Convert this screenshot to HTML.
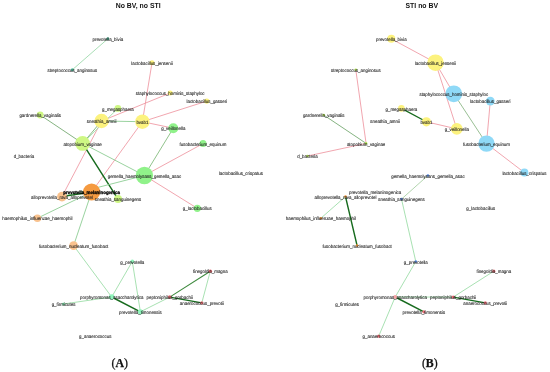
<!DOCTYPE html>
<html><head><meta charset="utf-8"><title>Networks</title>
<style>
html,body{margin:0;padding:0;background:#fff;}
body{width:550px;height:372px;overflow:hidden;}
svg{display:block;}
.l{font-family:"Liberation Sans",Arial,Helvetica,sans-serif;font-size:4.8px;fill:#222;stroke:#222;stroke-width:0.1px;text-anchor:middle;text-rendering:geometricPrecision;}
.t{font-family:"Liberation Sans",Arial,Helvetica,sans-serif;font-size:6.9px;font-weight:bold;fill:#111;text-anchor:middle;}
.c{font-family:"Liberation Serif","Times New Roman",serif;font-size:11.8px;fill:#111;stroke:#111;stroke-width:0.25px;text-anchor:middle;}
.c tspan{font-weight:bold;}
</style></head><body>
<svg width="550" height="372" viewBox="0 0 550 372">
<defs><filter id="soft" x="0" y="0" width="550" height="372" filterUnits="userSpaceOnUse"><feGaussianBlur stdDeviation="0.38"/></filter></defs>
<rect width="550" height="372" fill="#fff"/>
<g>
<line x1="107.8" y1="38.8" x2="72.3" y2="69.8" stroke="#98D8A8" stroke-width="0.85" stroke-linecap="round"/>
<line x1="152.0" y1="62.7" x2="142.4" y2="121.7" stroke="#EE96A0" stroke-width="0.85" stroke-linecap="round"/>
<line x1="170.2" y1="93.0" x2="101.6" y2="121.0" stroke="#EE96A0" stroke-width="0.85" stroke-linecap="round"/>
<line x1="206.8" y1="101.1" x2="142.4" y2="121.7" stroke="#EE96A0" stroke-width="0.85" stroke-linecap="round"/>
<line x1="142.4" y1="121.7" x2="173.3" y2="128.2" stroke="#EE96A0" stroke-width="0.85" stroke-linecap="round"/>
<line x1="142.4" y1="121.7" x2="101.6" y2="121.0" stroke="#86CA8E" stroke-width="0.85" stroke-linecap="round"/>
<line x1="142.4" y1="121.7" x2="91.6" y2="192.0" stroke="#EE96A0" stroke-width="0.85" stroke-linecap="round"/>
<line x1="101.6" y1="121.0" x2="62.0" y2="196.6" stroke="#EE96A0" stroke-width="0.85" stroke-linecap="round"/>
<line x1="40.2" y1="115.0" x2="82.6" y2="143.4" stroke="#6FA56A" stroke-width="0.85" stroke-linecap="round"/>
<line x1="82.6" y1="143.4" x2="101.6" y2="121.0" stroke="#74AC6E" stroke-width="0.85" stroke-linecap="round"/>
<line x1="82.6" y1="143.4" x2="117.9" y2="108.4" stroke="#98DCA4" stroke-width="0.85" stroke-linecap="round"/>
<line x1="82.6" y1="143.4" x2="118.0" y2="199.1" stroke="#176B1E" stroke-width="1.45" stroke-linecap="round"/>
<line x1="82.6" y1="143.4" x2="144.4" y2="175.5" stroke="#86CA8E" stroke-width="0.85" stroke-linecap="round"/>
<line x1="144.4" y1="175.5" x2="173.3" y2="128.2" stroke="#7DB877" stroke-width="0.85" stroke-linecap="round"/>
<line x1="144.4" y1="175.5" x2="203.0" y2="143.6" stroke="#EE96A0" stroke-width="0.85" stroke-linecap="round"/>
<line x1="144.4" y1="175.5" x2="197.3" y2="208.3" stroke="#EE96A0" stroke-width="0.85" stroke-linecap="round"/>
<line x1="144.4" y1="175.5" x2="62.0" y2="196.6" stroke="#86CA8E" stroke-width="0.85" stroke-linecap="round"/>
<line x1="91.6" y1="192.0" x2="62.0" y2="196.6" stroke="#176B1E" stroke-width="1.3" stroke-linecap="round"/>
<line x1="91.6" y1="192.0" x2="37.4" y2="218.2" stroke="#86CA8E" stroke-width="0.85" stroke-linecap="round"/>
<line x1="91.6" y1="192.0" x2="73.6" y2="245.6" stroke="#86CA8E" stroke-width="0.85" stroke-linecap="round"/>
<line x1="73.6" y1="245.6" x2="111.7" y2="297.0" stroke="#98DCA4" stroke-width="0.85" stroke-linecap="round"/>
<line x1="111.7" y1="297.0" x2="132.3" y2="261.5" stroke="#98DCA4" stroke-width="0.85" stroke-linecap="round"/>
<line x1="132.3" y1="261.5" x2="140.4" y2="311.8" stroke="#98DCA4" stroke-width="0.85" stroke-linecap="round"/>
<line x1="111.7" y1="297.0" x2="140.4" y2="311.8" stroke="#176B1E" stroke-width="1.45" stroke-linecap="round"/>
<line x1="111.7" y1="297.0" x2="63.5" y2="304.0" stroke="#98DCA4" stroke-width="0.85" stroke-linecap="round"/>
<line x1="140.4" y1="311.8" x2="169.7" y2="297.1" stroke="#98DCA4" stroke-width="0.85" stroke-linecap="round"/>
<line x1="169.7" y1="297.1" x2="210.3" y2="271.2" stroke="#3E8A3E" stroke-width="1.1" stroke-linecap="round"/>
<line x1="169.7" y1="297.1" x2="201.8" y2="302.9" stroke="#176B1E" stroke-width="1.45" stroke-linecap="round"/>
<line x1="210.3" y1="271.2" x2="201.8" y2="302.9" stroke="#98DCA4" stroke-width="0.85" stroke-linecap="round"/>
<circle cx="107.8" cy="38.8" r="1.5" fill="#4FBF9F"/>
<circle cx="72.3" cy="69.8" r="1.5" fill="#4FBF9F"/>
<circle cx="152.0" cy="62.7" r="2.5" fill="#FCF27E"/>
<circle cx="170.2" cy="93.0" r="2.5" fill="#FCF27E"/>
<circle cx="206.8" cy="101.1" r="2.7" fill="#FCF27E"/>
<circle cx="117.9" cy="108.4" r="3.4" fill="#CEF784"/>
<circle cx="40.2" cy="115.0" r="3.4" fill="#CEF784"/>
<circle cx="101.6" cy="121.0" r="7.2" fill="#FCF27E"/>
<circle cx="142.4" cy="121.7" r="7.2" fill="#FCF27E"/>
<circle cx="173.3" cy="128.2" r="5.0" fill="#90F28A"/>
<circle cx="82.6" cy="143.4" r="7.4" fill="#CEF784"/>
<circle cx="203.0" cy="143.6" r="3.5" fill="#90F28A"/>
<circle cx="144.4" cy="175.5" r="8.7" fill="#90F28A"/>
<circle cx="91.6" cy="192.0" r="8.6" fill="#F59A40"/>
<circle cx="62.0" cy="196.6" r="4.9" fill="#F9C28E"/>
<circle cx="118.0" cy="199.1" r="4.0" fill="#CEF784"/>
<circle cx="197.3" cy="208.3" r="3.6" fill="#90F28A"/>
<circle cx="37.4" cy="218.2" r="3.8" fill="#F9C28E"/>
<circle cx="73.6" cy="245.6" r="4.4" fill="#F9C28E"/>
<circle cx="132.3" cy="261.5" r="1.9" fill="#90F5BC"/>
<circle cx="210.3" cy="271.2" r="1.8" fill="#EE7078"/>
<circle cx="111.7" cy="297.0" r="2.8" fill="#90F5BC"/>
<circle cx="169.7" cy="297.1" r="1.8" fill="#EE7078"/>
<circle cx="201.8" cy="302.9" r="1.6" fill="#EE7078"/>
<circle cx="63.5" cy="304.0" r="1.6" fill="#90F5BC"/>
<circle cx="140.4" cy="311.8" r="2.6" fill="#90F5BC"/>
<g filter="url(#soft)">
<text class="l" transform="translate(107.8 40.9) scale(0.917 1)">prevotella_bivia</text>
<text class="l" transform="translate(72.3 71.9) scale(0.917 1)">streptococcus_anginosus</text>
<text class="l" transform="translate(152.0 64.8) scale(0.917 1)">lactobacillus_jensenii</text>
<text class="l" transform="translate(170.2 95.1) scale(0.917 1)">staphylococcus_hominis_staphyloc</text>
<text class="l" transform="translate(206.8 103.2) scale(0.917 1)">lactobacillus_gasseri</text>
<text class="l" transform="translate(117.9 110.5) scale(0.917 1)">g_megasphaera</text>
<text class="l" transform="translate(40.2 117.1) scale(0.917 1)">gardnerella_vaginalis</text>
<text class="l" transform="translate(101.6 123.1) scale(0.917 1)">sneathia_amnii</text>
<text class="l" transform="translate(142.4 123.8) scale(0.917 1)">bvab1</text>
<text class="l" transform="translate(173.3 130.3) scale(0.917 1)">g_veillonella</text>
<text class="l" transform="translate(82.6 145.5) scale(0.917 1)">atopobium_vaginae</text>
<text class="l" transform="translate(203.0 145.7) scale(0.917 1)">fusobacterium_equinum</text>
<text class="l" transform="translate(24.0 158.1) scale(0.917 1)">d_bacteria</text>
<text class="l" transform="translate(240.9 174.7) scale(0.917 1)">lactobacillus_crispatus</text>
<text class="l" transform="translate(144.4 177.6) scale(0.917 1)">gemella_haemolysans_gemella_asac</text>
<text class="l" transform="translate(91.6 194.1) scale(0.917 1)" font-weight="bold" style="fill:#000;stroke:#000;stroke-width:0.3px">prevotella_melaninogenica</text>
<text class="l" transform="translate(62.0 198.7) scale(0.917 1)">alloprevotella_rava_alloprevotel</text>
<text class="l" transform="translate(118.0 201.2) scale(0.917 1)">sneathia_sanguinegens</text>
<text class="l" transform="translate(197.3 210.4) scale(0.917 1)">g_lactobacillus</text>
<text class="l" transform="translate(37.4 220.3) scale(0.917 1)">haemophilus_influenzae_haemophil</text>
<text class="l" transform="translate(73.6 247.7) scale(0.917 1)">fusobacterium_nucleatum_fusobact</text>
<text class="l" transform="translate(132.3 263.6) scale(0.917 1)">g_prevotella</text>
<text class="l" transform="translate(210.3 273.3) scale(0.917 1)">finegoldia_magna</text>
<text class="l" transform="translate(111.7 299.1) scale(0.917 1)">porphyromonas_asaccharolytica</text>
<text class="l" transform="translate(169.7 299.2) scale(0.917 1)">peptoniphilus_gorbachii</text>
<text class="l" transform="translate(201.8 305.0) scale(0.917 1)">anaerococcus_prevotii</text>
<text class="l" transform="translate(63.5 306.1) scale(0.917 1)">g_firmicutes</text>
<text class="l" transform="translate(140.4 313.9) scale(0.917 1)">prevotella_timonensis</text>
<text class="l" transform="translate(95.2 338.3) scale(0.917 1)">g_anaerococcus</text>
</g>
</g>
<g>
<line x1="391.3" y1="38.8" x2="435.5" y2="62.7" stroke="#EE96A0" stroke-width="0.85" stroke-linecap="round"/>
<line x1="435.5" y1="62.7" x2="453.8" y2="93.8" stroke="#EE96A0" stroke-width="0.85" stroke-linecap="round"/>
<line x1="435.5" y1="62.7" x2="456.8" y2="128.9" stroke="#EE96A0" stroke-width="0.85" stroke-linecap="round"/>
<line x1="453.8" y1="93.8" x2="486.5" y2="143.6" stroke="#7FAE78" stroke-width="0.8" stroke-linecap="round"/>
<line x1="490.3" y1="101.1" x2="486.5" y2="143.6" stroke="#EE96A0" stroke-width="0.85" stroke-linecap="round"/>
<line x1="486.5" y1="143.6" x2="524.4" y2="172.6" stroke="#EE96A0" stroke-width="0.85" stroke-linecap="round"/>
<line x1="401.4" y1="108.4" x2="426.4" y2="121.8" stroke="#176B1E" stroke-width="1.3" stroke-linecap="round"/>
<line x1="426.4" y1="121.8" x2="456.8" y2="128.9" stroke="#EE96A0" stroke-width="0.85" stroke-linecap="round"/>
<line x1="355.8" y1="69.8" x2="366.1" y2="143.4" stroke="#EE96A0" stroke-width="0.85" stroke-linecap="round"/>
<line x1="323.7" y1="115.0" x2="366.1" y2="143.4" stroke="#6FA56A" stroke-width="0.85" stroke-linecap="round"/>
<line x1="366.1" y1="143.4" x2="307.5" y2="156.0" stroke="#EE96A0" stroke-width="0.85" stroke-linecap="round"/>
<line x1="427.9" y1="175.5" x2="401.5" y2="199.1" stroke="#7DB877" stroke-width="0.6" stroke-linecap="round"/>
<line x1="401.5" y1="199.1" x2="415.8" y2="261.5" stroke="#98DCA4" stroke-width="0.85" stroke-linecap="round"/>
<line x1="345.5" y1="196.6" x2="320.9" y2="218.2" stroke="#98DCA4" stroke-width="0.85" stroke-linecap="round"/>
<line x1="345.5" y1="196.6" x2="357.1" y2="245.6" stroke="#176B1E" stroke-width="1.45" stroke-linecap="round"/>
<line x1="415.8" y1="261.5" x2="395.2" y2="297.0" stroke="#98DCA4" stroke-width="0.85" stroke-linecap="round"/>
<line x1="395.2" y1="297.0" x2="423.9" y2="311.8" stroke="#176B1E" stroke-width="1.45" stroke-linecap="round"/>
<line x1="395.2" y1="297.0" x2="378.7" y2="336.2" stroke="#98DCA4" stroke-width="0.85" stroke-linecap="round"/>
<line x1="395.2" y1="297.0" x2="453.2" y2="297.1" stroke="#98DCA4" stroke-width="0.85" stroke-linecap="round"/>
<line x1="453.2" y1="297.1" x2="493.8" y2="271.2" stroke="#98DCA4" stroke-width="0.85" stroke-linecap="round"/>
<line x1="453.2" y1="297.1" x2="485.3" y2="302.9" stroke="#176B1E" stroke-width="1.45" stroke-linecap="round"/>
<circle cx="391.3" cy="38.8" r="4.0" fill="#FCF27E"/>
<circle cx="355.8" cy="69.8" r="1.3" fill="#B8EE58"/>
<circle cx="435.5" cy="62.7" r="8.3" fill="#FCF27E"/>
<circle cx="453.8" cy="93.8" r="8.4" fill="#8FD9F7"/>
<circle cx="490.3" cy="101.1" r="4.4" fill="#8FD9F7"/>
<circle cx="401.4" cy="108.4" r="3.3" fill="#FCF27E"/>
<circle cx="323.7" cy="115.0" r="1.3" fill="#B8EE58"/>
<circle cx="426.4" cy="121.8" r="4.6" fill="#FCF27E"/>
<circle cx="456.8" cy="128.9" r="5.9" fill="#FCF27E"/>
<circle cx="366.1" cy="143.4" r="1.3" fill="#B8EE58"/>
<circle cx="486.5" cy="143.6" r="8.2" fill="#8FD9F7"/>
<circle cx="307.5" cy="156.0" r="1.3" fill="#B8EE58"/>
<circle cx="524.4" cy="172.6" r="4.0" fill="#8FD9F7"/>
<circle cx="427.9" cy="175.5" r="1.3" fill="#5A8CE6"/>
<circle cx="345.5" cy="196.6" r="1.3" fill="#F59A40"/>
<circle cx="401.5" cy="199.1" r="1.3" fill="#5A8CE6"/>
<circle cx="320.9" cy="218.2" r="1.3" fill="#F59A40"/>
<circle cx="357.1" cy="245.6" r="1.3" fill="#F59A40"/>
<circle cx="415.8" cy="261.5" r="1.3" fill="#5A8CE6"/>
<circle cx="493.8" cy="271.2" r="1.6" fill="#EE7078"/>
<circle cx="395.2" cy="297.0" r="2.0" fill="#F6A4A6"/>
<circle cx="453.2" cy="297.1" r="1.6" fill="#EE7078"/>
<circle cx="485.3" cy="302.9" r="1.6" fill="#EE7078"/>
<circle cx="423.9" cy="311.8" r="1.6" fill="#EE7078"/>
<circle cx="378.7" cy="336.2" r="1.6" fill="#EE7078"/>
<g filter="url(#soft)">
<text class="l" transform="translate(391.3 40.9) scale(0.917 1)">prevotella_bivia</text>
<text class="l" transform="translate(355.8 71.9) scale(0.917 1)">streptococcus_anginosus</text>
<text class="l" transform="translate(435.5 64.8) scale(0.917 1)">lactobacillus_jensenii</text>
<text class="l" transform="translate(453.8 95.9) scale(0.917 1)">staphylococcus_hominis_staphyloc</text>
<text class="l" transform="translate(490.3 103.2) scale(0.917 1)">lactobacillus_gasseri</text>
<text class="l" transform="translate(401.4 110.5) scale(0.917 1)">g_megasphaera</text>
<text class="l" transform="translate(323.7 117.1) scale(0.917 1)">gardnerella_vaginalis</text>
<text class="l" transform="translate(385.1 123.1) scale(0.917 1)">sneathia_amnii</text>
<text class="l" transform="translate(426.4 123.9) scale(0.917 1)">bvab1</text>
<text class="l" transform="translate(456.8 131.0) scale(0.917 1)">g_veillonella</text>
<text class="l" transform="translate(366.1 145.5) scale(0.917 1)">atopobium_vaginae</text>
<text class="l" transform="translate(486.5 145.7) scale(0.917 1)">fusobacterium_equinum</text>
<text class="l" transform="translate(307.5 158.1) scale(0.917 1)">d_bacteria</text>
<text class="l" transform="translate(524.4 174.7) scale(0.917 1)">lactobacillus_crispatus</text>
<text class="l" transform="translate(427.9 177.6) scale(0.917 1)">gemella_haemolysans_gemella_asac</text>
<text class="l" transform="translate(375.1 194.1) scale(0.917 1)">prevotella_melaninogenica</text>
<text class="l" transform="translate(345.5 198.7) scale(0.917 1)">alloprevotella_rava_alloprevotel</text>
<text class="l" transform="translate(401.5 201.2) scale(0.917 1)">sneathia_sanguinegens</text>
<text class="l" transform="translate(480.8 210.4) scale(0.917 1)">g_lactobacillus</text>
<text class="l" transform="translate(320.9 220.3) scale(0.917 1)">haemophilus_influenzae_haemophil</text>
<text class="l" transform="translate(357.1 247.7) scale(0.917 1)">fusobacterium_nucleatum_fusobact</text>
<text class="l" transform="translate(415.8 263.6) scale(0.917 1)">g_prevotella</text>
<text class="l" transform="translate(493.8 273.3) scale(0.917 1)">finegoldia_magna</text>
<text class="l" transform="translate(395.2 299.1) scale(0.917 1)">porphyromonas_asaccharolytica</text>
<text class="l" transform="translate(453.2 299.2) scale(0.917 1)">peptoniphilus_gorbachii</text>
<text class="l" transform="translate(485.3 305.0) scale(0.917 1)">anaerococcus_prevotii</text>
<text class="l" transform="translate(347.0 306.1) scale(0.917 1)">g_firmicutes</text>
<text class="l" transform="translate(423.9 313.9) scale(0.917 1)">prevotella_timonensis</text>
<text class="l" transform="translate(378.7 338.3) scale(0.917 1)">g_anaerococcus</text>
</g>
</g>
<text class="t" x="138.2" y="8.0">No BV, no STI</text>
<text class="t" x="421.8" y="8.0">STI no BV</text>
<text class="c" x="119.8" y="367.2">(<tspan>A</tspan>)</text>
<text class="c" x="429.8" y="367.2">(<tspan>B</tspan>)</text>
</svg></body></html>
